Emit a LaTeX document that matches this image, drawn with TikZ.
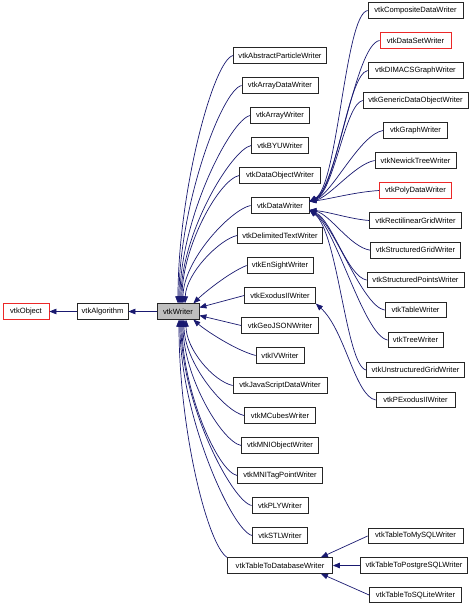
\documentclass[tikz,border=0pt]{standalone}
\usepackage{fontspec}
\setmainfont{Liberation Sans}
\usetikzlibrary{arrows.meta,calc}
\definecolor{edgeblue}{RGB}{25,25,112}
\definecolor{boxred}{RGB}{235,40,40}
\begin{document}
\begin{tikzpicture}[x=1pt,y=-1pt,
  box/.style={draw=black!85,line width=0.75pt,fill=white,minimum height=15.5pt,inner sep=0pt,font=\fontsize{7.6}{8}\selectfont},
  redbox/.style={box,draw=boxred},
  edge/.style={draw=edgeblue,line width=0.7pt,-{Triangle[length=7pt,width=5.5pt]}}]
\useasboundingbox (0,0) rectangle (474,607);
% left column
\node[redbox,minimum width=46pt] (obj) at (26,311.5) {vtkObject};
\node[box,minimum width=51pt] (alg) at (102.5,311.5) {vtkAlgorithm};
\node[box,minimum width=42pt,fill=black!25] (writer) at (178,311.5) {vtkWriter};
% middle column
\node[box,minimum width=93pt] (abs) at (280,55.5) {vtkAbstractParticleWriter};
\node[box,minimum width=76pt] (arrdata) at (280,85.5) {vtkArrayDataWriter};
\node[box,minimum width=59pt] (arr) at (280,115.5) {vtkArrayWriter};
\node[box,minimum width=57pt] (byu) at (280,145.5) {vtkBYUWriter};
\node[box,minimum width=81pt] (dobj) at (280,175.5) {vtkDataObjectWriter};
\node[box,minimum width=58pt] (dw) at (280,205.5) {vtkDataWriter};
\node[box,minimum width=85pt] (delim) at (280,235.5) {vtkDelimitedTextWriter};
\node[box,minimum width=66pt] (ens) at (280,265.5) {vtkEnSightWriter};
\node[box,minimum width=71pt] (exo) at (280,295.5) {vtkExodusIIWriter};
\node[box,minimum width=77pt] (geo) at (280,325.5) {vtkGeoJSONWriter};
\node[box,minimum width=48pt] (iv) at (280,355.5) {vtkIVWriter};
\node[box,minimum width=94pt] (js) at (280,385.5) {vtkJavaScriptDataWriter};
\node[box,minimum width=71pt] (mc) at (280,415.5) {vtkMCubesWriter};
\node[box,minimum width=77pt] (mnio) at (280,445.5) {vtkMNIObjectWriter};
\node[box,minimum width=85pt] (mnit) at (280,475.5) {vtkMNITagPointWriter};
\node[box,minimum width=56pt] (ply) at (280,505.5) {vtkPLYWriter};
\node[box,minimum width=55pt] (stl) at (280,535.5) {vtkSTLWriter};
\node[box,minimum width=105pt] (tdb) at (280,565.5) {vtkTableToDatabaseWriter};
% right column
\node[box,minimum width=95pt] (comp) at (415.5,10.5) {vtkCompositeDataWriter};
\node[redbox,minimum width=71pt] (dset) at (415.5,40.5) {vtkDataSetWriter};
\node[box,minimum width=95pt] (dimacs) at (415.5,70.5) {vtkDIMACSGraphWriter};
\node[box,minimum width=105pt] (gen) at (415.5,100.5) {vtkGenericDataObjectWriter};
\node[box,minimum width=64pt] (graph) at (415.5,130.5) {vtkGraphWriter};
\node[box,minimum width=81pt] (newick) at (415.5,160.5) {vtkNewickTreeWriter};
\node[redbox,minimum width=72pt] (poly) at (415.5,190.5) {vtkPolyDataWriter};
\node[box,minimum width=92pt] (rect) at (415.5,220.5) {vtkRectilinearGridWriter};
\node[box,minimum width=90pt] (sgrid) at (415.5,250.2) {vtkStructuredGridWriter};
\node[box,minimum width=97pt] (spts) at (415.5,280.1) {vtkStructuredPointsWriter};
\node[box,minimum width=61pt] (table) at (415.5,310.1) {vtkTableWriter};
\node[box,minimum width=55pt] (tree) at (415.5,340) {vtkTreeWriter};
\node[box,minimum width=98pt] (ugrid) at (415.5,370) {vtkUnstructuredGridWriter};
\node[box,minimum width=79pt] (pexo) at (415.5,400) {vtkPExodusIIWriter};
\node[box,minimum width=95pt] (mysql) at (415.5,536) {vtkTableToMySQLWriter};
\node[box,minimum width=107pt] (pg) at (414,565.5) {vtkTableToPostgreSQLWriter};
\node[box,minimum width=92pt] (sqlite) at (415.5,595) {vtkTableToSQLiteWriter};
% left chain
\draw[edge] (writer) -- (alg);
\draw[edge] (alg) -- (obj);
% children of vtkWriter, above
\draw[edge] (abs.west) .. controls (213.5,59.5) and (178,192) .. ($(writer.north)+(0,0)$);
\draw[edge] (arrdata.west) .. controls (222,89.5) and (179,205) .. ($(writer.north)+(1,0)$);
\draw[edge] (arr.west) .. controls (230.5,119.5) and (180,219) .. ($(writer.north)+(2,0)$);
\draw[edge] (byu.west) .. controls (231.5,149.5) and (181,233) .. ($(writer.north)+(3,0)$);
\draw[edge] (dobj.west) .. controls (219.5,179.5) and (182,246) .. ($(writer.north)+(4,0)$);
\draw[edge] (dw.west) .. controls (231,209.5) and (183,260) .. ($(writer.north)+(5,0)$);
\draw[edge] (delim.west) .. controls (220,239) and (186,273) .. ($(writer.north)+(7,0)$);
\draw[edge] (ens.west) .. controls (230,272) and (205,292) .. ($(writer.north east)+(-6,0)$);
\draw[edge] (exo.west) -- ($(writer.east)+(0,-4)$);
\draw[edge] (geo.west) -- ($(writer.east)+(0,4)$);
\draw[edge] (iv.west) .. controls (235,350) and (205,330) .. ($(writer.south east)+(-6,0)$);
% children of vtkWriter, below
\draw[edge] (js.west) .. controls (213,381) and (186,349) .. ($(writer.south)+(8,0)$);
\draw[edge] (mc.west) .. controls (224.5,411.5) and (184,363) .. ($(writer.south)+(6,0)$);
\draw[edge] (mnio.west) .. controls (221.5,441.5) and (183,376) .. ($(writer.south)+(5,0)$);
\draw[edge] (mnit.west) .. controls (217.5,471.5) and (182,389.5) .. ($(writer.south)+(4,0)$);
\draw[edge] (ply.west) .. controls (232,501.5) and (181,403) .. ($(writer.south)+(3,0)$);
\draw[edge] (stl.west) .. controls (232.5,531.5) and (180,416) .. ($(writer.south)+(2,0)$);
\draw[edge] (tdb.north west) .. controls (207.5,545) and (179,430) .. ($(writer.south)+(1,0)$);
% children of vtkDataWriter
\coordinate (dwup) at ($(dw.east)+(0,-4)$);
\coordinate (dwlo) at ($(dw.east)+(0,4.5)$);
\draw[edge] (comp.west) .. controls (345,14) and (338,186) .. (dwup);
\draw[edge] (dset.west) .. controls (355,44) and (337,188) .. (dwup);
\draw[edge] (dimacs.west) .. controls (348,74) and (336,190) .. (dwup);
\draw[edge] (gen.west) .. controls (345,104) and (334,192) .. (dwup);
\draw[edge] (graph.west) .. controls (360,134) and (332,194) .. (dwup);
\draw[edge] (newick.west) .. controls (355,164) and (330,197) .. (dwup);
\draw[edge] (poly.west) .. controls (355,192) and (330,199) .. (dwup);
\draw[edge] (rect.west) .. controls (350,219) and (330,212) .. (dwlo);
\draw[edge] (sgrid.west) .. controls (350,247) and (330,214) .. (dwlo);
\draw[edge] (spts.west) .. controls (347,276) and (332,220) .. (dwlo);
\draw[edge] (table.west) .. controls (362,306) and (334,224) .. (dwlo);
\draw[edge] (tree.west) .. controls (364,336) and (336,228) .. (dwlo);
\draw[edge] (ugrid.west) .. controls (346,366) and (338,232) .. (dwlo);
% child of vtkExodusIIWriter
\draw[edge] (pexo.west) .. controls (355,396) and (345,330) .. (exo.south east);
% children of vtkTableToDatabaseWriter
\draw[edge] (mysql.west) -- ($(tdb.north east)+(-12,0)$);
\draw[edge] (pg.west) -- (tdb.east);
\draw[edge] (sqlite.west) -- ($(tdb.south east)+(-12,0)$);
\end{tikzpicture}
\end{document}
